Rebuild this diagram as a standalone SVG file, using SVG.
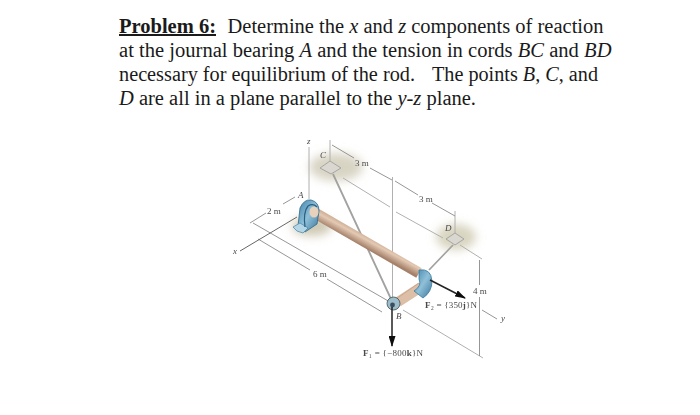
<svg xmlns="http://www.w3.org/2000/svg" width="700" height="415" viewBox="0 0 700 415">
<style>
.t{font:20px "Liberation Serif",serif;fill:#1a1a1a}
.l{font:9px "Liberation Serif",serif;fill:#4a4a4a}
.i{font-style:italic}
.b{font-weight:bold}
.g{stroke:#b0b0b0;stroke-width:1;fill:none}
.d{stroke:#8a8a8a;stroke-width:.9;fill:none}
.c{stroke:#a2a2a0;stroke-width:1.8;fill:none}
.p{fill:#d9d7d0;stroke:#a5a5a2;stroke-width:1}
</style>
<defs>
<filter id="bl" x="-50%" y="-50%" width="200%" height="200%"><feGaussianBlur stdDeviation="5"/></filter>
<filter id="s" x="-10%" y="-10%" width="120%" height="120%"><feGaussianBlur stdDeviation=".4"/></filter>
<linearGradient id="rod" gradientUnits="userSpaceOnUse" x1="370" y1="236" x2="364" y2="247"><stop offset="0" stop-color="#c8a88f"/><stop offset=".4" stop-color="#e4c9b3"/><stop offset="1" stop-color="#a5816a"/></linearGradient>
<linearGradient id="blue" x1="0" y1="0" x2="1" y2="1"><stop offset="0" stop-color="#3f82ab"/><stop offset=".5" stop-color="#8fc0d8"/><stop offset="1" stop-color="#3a759a"/></linearGradient>
<marker id="ar" markerWidth="11" markerHeight="7" refX="10" refY="3.500" orient="auto" markerUnits="userSpaceOnUse"><path d="M0 0L11 3.500L0 7z" fill="#111"/></marker>
</defs>
<rect width="700" height="415" fill="#fff"/>
<g id="problem-text">
<text class="t b" x="119" y="33" text-decoration="underline" textLength="97" lengthAdjust="spacingAndGlyphs">Problem 6:</text>
<text class="t" x="227.500" y="33" textLength="376" lengthAdjust="spacingAndGlyphs">Determine the <tspan class="i">x</tspan> and <tspan class="i">z</tspan> components of reaction</text>
<text class="t" x="119" y="57" textLength="492.500" lengthAdjust="spacingAndGlyphs">at the journal bearing <tspan class="i">A</tspan> and the tension in cords <tspan class="i">BC</tspan> and <tspan class="i">BD</tspan></text>
<text class="t" x="119" y="81" textLength="296" lengthAdjust="spacingAndGlyphs">necessary for equilibrium of the rod.</text>
<text class="t" x="432" y="81" textLength="166" lengthAdjust="spacingAndGlyphs">The points <tspan class="i">B</tspan>, <tspan class="i">C</tspan>, and</text>
<text class="t" x="119" y="104.500" textLength="357" lengthAdjust="spacingAndGlyphs"><tspan class="i">D</tspan> are all in a plane parallel to the <tspan class="i">y</tspan>-<tspan class="i">z</tspan> plane.</text>
</g>
<g id="figure" filter="url(#s)">
<ellipse cx="336" cy="167" rx="27" ry="14" fill="#d8d4c4" filter="url(#bl)"/>
<ellipse cx="456" cy="237" rx="20" ry="13" fill="#d8d4c0" filter="url(#bl)"/>
<ellipse cx="312" cy="226" rx="20" ry="10" fill="#cfc9b4" filter="url(#bl)"/>
<g id="dimensions">
<path class="g" d="M309 147V199M330 140V162M392.500 177V300M455 211V233"/>
<path class="d" d="M332 145L354 158M370 168L392 180M395 181L418 195M432 203L455 216"/>
<path class="d" d="M250 223L266 213M283 204L295 197M253 223L390 302M258 239L310 270M327 279L382 312"/>
<path class="g" d="M343 178L390 207M396 212L443 238M460 245L482 259M403 310L483 358"/>
<path class="d" d="M479.500 260V285M479.500 297V356M482 310L497 319"/>
<path d="M240 251L297 217" stroke="#666" stroke-width="1" fill="none"/>
</g>
<path class="p" d="M330 161L341 168L331 174L320 168z"/>
<path class="p" d="M455 233L464 239L455 245L446 239z"/>
<g id="cords">
<path class="c" d="M333 174L391 299M453 245L429 270"/>
</g>
<g id="rod-body">
<path d="M315 213L419 273" stroke="url(#rod)" stroke-width="11" fill="none"/>
<path d="M398 302L421 287" stroke="#dcbfa6" stroke-width="10" fill="none"/>
<path d="M396 299L419 283" stroke="#c9a78d" stroke-width="1" fill="none"/>
</g>
<g id="bearing-A">
<path d="M298 226L300 208Q304 199 311 200Q319 202 319 211L317 224L305 232z" fill="url(#blue)" stroke="#2f6788" stroke-width=".8"/>
<path d="M293 227L300 223L308 228L303 233Q296 232 293 227z" fill="#b5d6e6" stroke="#4a84a6" stroke-width=".7"/>
<path d="M305 227Q303 212 308 206Q313 203 317 207" fill="none" stroke="#2a5f80" stroke-width="1.200"/>
<ellipse cx="314" cy="212" rx="4.500" ry="5.500" fill="#e8d2bc"/>
</g>
<g id="elbow">
<path d="M419 270Q431 268 432 281Q432 292 423 298L414 291Q422 286 419 279z" fill="url(#blue)" stroke="#3a7ba0" stroke-width=".8"/>
</g>
<g id="knob-B">
<circle cx="393.500" cy="303.500" r="6.500" fill="#9dbdca" stroke="#3b4c55" stroke-width=".8"/>
<circle cx="392.500" cy="305" r="2.400" fill="#38505c"/>
</g>
<g id="forces">
<path d="M430 280L465 298" stroke="#222" stroke-width="1.500" fill="none" marker-end="url(#ar)"/>
<path d="M392 307V346" stroke="#222" stroke-width="1.500" fill="none" marker-end="url(#ar)"/>
</g>
<g id="labels">
<text class="l i" x="307" y="144">z</text>
<text class="l i" x="320" y="158">C</text>
<text class="l" x="355" y="166">3 m</text>
<text class="l" x="419" y="202">3 m</text>
<text class="l i" x="445" y="231">D</text>
<text class="l i" x="298" y="198">A</text>
<text class="l" x="267" y="214">2 m</text>
<text class="l i" x="233" y="254">x</text>
<text class="l" x="313" y="277">6 m</text>
<text class="l" x="473" y="294">4 m</text>
<text class="l i" x="501" y="321">y</text>
<text class="l i" x="396" y="319">B</text>
<text class="l" x="425" y="308" textLength="52"><tspan class="b">F</tspan>₂ = {350<tspan class="b">j</tspan>}N</text>
<text class="l" x="363" y="356" textLength="60"><tspan class="b">F</tspan>₁ = {−800<tspan class="b">k</tspan>}N</text>
</g>
</g>
</svg>
